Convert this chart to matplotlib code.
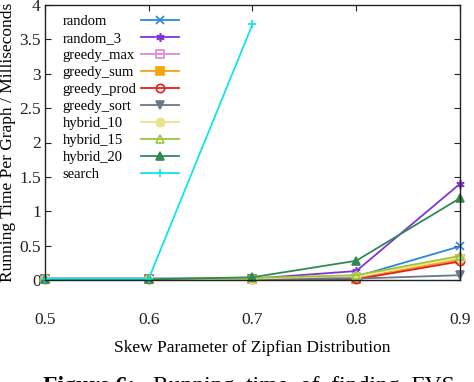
import matplotlib
matplotlib.use("Agg")
import matplotlib.pyplot as plt
from matplotlib.ticker import FuncFormatter

plt.rcParams['font.family'] = ['Liberation Serif', 'DejaVu Serif']

skew = [0.5, 0.6, 0.7, 0.8, 0.9]

random_ = [0.02, 0.02, 0.02, 0.05, 0.49]
random_3 = [0.02, 0.02, 0.02, 0.13, 1.40]
greedy_max = [0.01, 0.01, 0.01, 0.02, 0.30]
greedy_sum = [0.01, 0.01, 0.01, 0.02, 0.30]
greedy_prod = [0.01, 0.01, 0.01, 0.01, 0.27]
greedy_sort = [0.01, 0.01, 0.01, 0.02, 0.07]
hybrid_10 = [0.01, 0.01, 0.02, 0.06, 0.32]
hybrid_15 = [0.01, 0.01, 0.03, 0.07, 0.35]
hybrid_20 = [0.01, 0.01, 0.04, 0.28, 1.19]
search_x = [0.5, 0.6, 0.7]
search = [0.02, 0.02, 3.72]

series = [
    ("random", skew, random_, '#2f86e0', 'x', 'full'),
    ("random_3", skew, random_3, '#8233d8', (6, 2, 0), 'full'),
    ("greedy_max", skew, greedy_max, '#d98ad9', 's', 'none'),
    ("greedy_sum", skew, greedy_sum, '#f6a20a', 's', 'full'),
    ("greedy_prod", skew, greedy_prod, '#e5201f', 'o', 'none'),
    ("greedy_sort", skew, greedy_sort, '#6b7888', 'v', 'full'),
    ("hybrid_10", skew, hybrid_10, '#ece38e', 'o', 'full'),
    ("hybrid_15", skew, hybrid_15, '#9cc63a', '^', 'none'),
    ("hybrid_20", skew, hybrid_20, '#2f8a55', '^', 'full'),
    ("search", search_x, search, '#14e3ea', '+', 'full'),
]

fig = plt.figure(figsize=(4.74, 3.82), dpi=100)
ax = fig.add_axes([45/474, 1-280/382, (460-45)/474, (280-5)/382])

for name, xs, ys, col, mk, fill in series:
    ax.plot(xs, ys, color=col, marker=mk, fillstyle=fill, markersize=6,
            markeredgewidth=1.2, linewidth=1.3, label=name, clip_on=False)

ax.set_xlim(0.5, 0.9)
ax.set_ylim(0, 4)
ax.set_xticks(skew)
ax.set_yticks([0, 0.5, 1, 1.5, 2, 2.5, 3, 3.5, 4])
ax.yaxis.set_major_formatter(FuncFormatter(lambda v, p: '%g' % v))
ax.xaxis.set_major_formatter(FuncFormatter(lambda v, p: '%g' % v))
ax.tick_params(direction='in', top=True, right=True, length=4, width=0.8,
               labelsize=12.5, colors='#222222')
ax.tick_params(axis='x', pad=23)
ax.tick_params(axis='y', pad=3)
for s in ax.spines.values():
    s.set_color('#222222')
    s.set_linewidth(1.0)

ax.set_xlabel('Skew Parameter of Zipfian Distribution', fontsize=12.5, labelpad=9)
ax.set_ylabel('Running Time Per Graph / Milliseconds', fontsize=12.5, labelpad=2)

leg = ax.legend(loc='upper left', frameon=False, markerfirst=False, fontsize=10.5,
                handlelength=2.6, labelspacing=0.26, borderaxespad=0.25,
                handletextpad=0.3, bbox_to_anchor=(0.02, 1.0))

# left-align legend labels while keeping handles in one column
fig.canvas.draw()
renderer = fig.canvas.get_renderer()
col = leg._legend_handle_box.get_children()[0]
col.align = 'left'
items = col.get_children()
widths = [t.get_window_extent(renderer).width for t in leg.get_texts()]
maxw = max(widths)
for item, w in zip(items, widths):
    item.sep = item.sep + (maxw - w) * 72.0 / fig.dpi

fig.text(43/474, 1-376/382, 'Figure 6:', fontsize=17, fontweight='bold',
         va='top', ha='left')
fig.text(153/474, 1-376/382, 'Running  time  of  finding  FVS', fontsize=17,
         va='top', ha='left')

fig.savefig('out.png', dpi=100)
